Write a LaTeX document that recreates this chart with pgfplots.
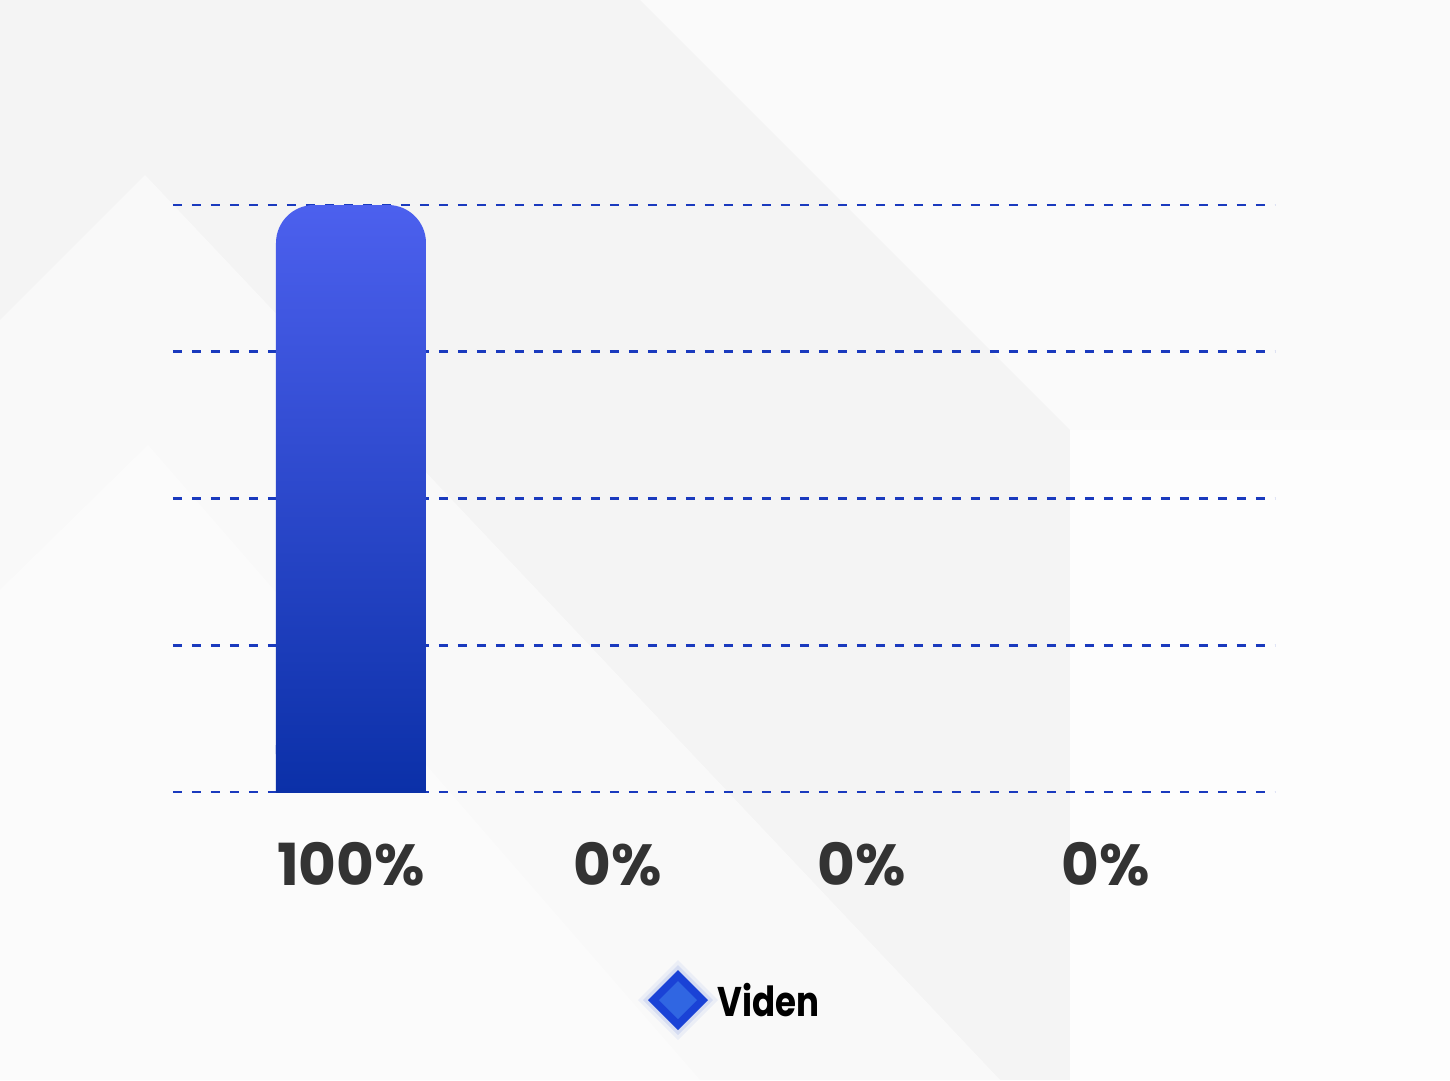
\documentclass[border=0pt]{standalone}
\usepackage{pgfplots}
\pgfplotsset{compat=1.18}
\usepackage{fontspec}
\setmainfont{Poppins}
\definecolor{bartop}{RGB}{76,96,238}
\definecolor{barbot}{RGB}{11,48,168}
\colorlet{barmid}{bartop!8!barbot}
\definecolor{gridc}{RGB}{26,58,190}
\definecolor{labc}{RGB}{51,51,51}
\definecolor{bg}{RGB}{244,244,244}
\definecolor{logoout}{RGB}{26,66,214}
\definecolor{logoin}{RGB}{48,102,226}
\begin{document}
\begin{tikzpicture}
% background
\begin{scope}[x=0.1mm,y=-0.1mm,yshift=108mm]
\fill[bg] (0,0) rectangle (1450,1080);
\fill[white,opacity=0.55] (230,0) -- (1450,0) -- (1450,1080) -- (1070,1080) -- (1070,430) -- (640,0) -- cycle;
\fill[white,opacity=0.5] (145,175) -- (0,320) -- (0,1080) -- (1000,1080) -- cycle;
\fill[white,opacity=0.45] (148,445) -- (0,590) -- (0,1080) -- (700,1080) -- cycle;
\fill[white,opacity=0.6] (1070,430) -- (1450,430) -- (1450,1080) -- (1070,1080) -- cycle;
\end{scope}
\begin{axis}[
  at={(17.3mm,28.8mm)}, anchor=south west,
  scale only axis, width=110.2mm, height=58.7mm,
  xmin=173, xmax=1275, ymin=0, ymax=100,
  axis line style={draw=none},
  tick style={draw=none},
  ytick={0,25,50,75,100}, yticklabels={},
  ymajorgrids,
  grid style={gridc, line width=0.28mm, dash pattern=on 0.95mm off 0.95mm},
  xtick={351,618,862,1106},
  xticklabels={\textbf{100\%},\textbf{0\%},\textbf{0\%},\textbf{0\%}},
  xticklabel style={anchor=base, yshift=-9.3mm, text=labc,
    font=\fontsize{16.5pt}{18pt}\selectfont\bfseries},
  clip=false,
]
\addplot[ybar, bar width=15mm, draw=none, top color=bartop, bottom color=barbot,
  rounded corners=3.8mm] coordinates {(351,100)};
\addplot[ybar, bar width=15mm, draw=none, top color=barmid, bottom color=barbot]
  coordinates {(351,8)};
\addplot[ybar, bar width=15mm, draw=none, fill=none]
  coordinates {(618,0) (862,0) (1106,0)};
\end{axis}
% logo
\begin{scope}[x=0.1mm,y=-0.1mm,yshift=108mm]
\fill[logoout,opacity=0.06] (678,960) -- (718,1000) -- (678,1040) -- (638,1000) -- cycle;
\fill[logoout,opacity=0.10] (678,965) -- (713,1000) -- (678,1035) -- (643,1000) -- cycle;
\fill[logoout] (678,970) -- (708,1000) -- (678,1030) -- (648,1000) -- cycle;
\fill[logoin] (678,981) -- (697,1000) -- (678,1019) -- (659,1000) -- cycle;
\node[anchor=base west, inner sep=0pt, font=\fontsize{11.8pt}{13pt}\selectfont\bfseries]
  at (717,1016) {\scalebox{0.82}[1]{Viden}};
\end{scope}
\end{tikzpicture}
\end{document}
